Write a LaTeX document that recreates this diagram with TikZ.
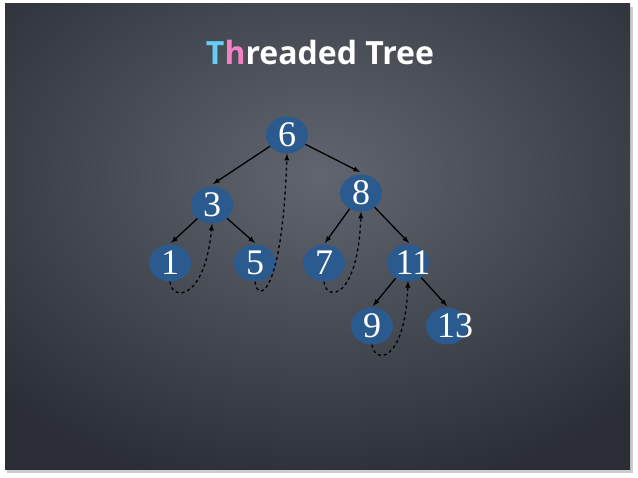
\documentclass[tikz,border=0pt]{standalone}
\usepackage{fontspec}
\setmainfont{Liberation Serif}
\newfontfamily\titlefont{Open Sans}
\usetikzlibrary{shapes.geometric}
\begin{document}
\begin{tikzpicture}[x=1pt,y=-1pt,
  nd/.style={ellipse,fill=nodeblue,minimum width=42pt,minimum height=37pt,inner sep=0pt,text=white,font=\fontsize{36}{36}\selectfont},
  tr/.style={-latex,line width=1.3pt,black},
  th/.style={-latex,line width=1.3pt,dashed,black}]
\definecolor{nodeblue}{HTML}{2B5A8F}
\definecolor{bgin}{HTML}{60656F}
\definecolor{bgout}{HTML}{2A2D35}
\useasboundingbox (0,0) rectangle (638,478);
\fill[white] (0,0) rectangle (638,478);
\fill[gray!40] (7,7) rectangle (633,473);
\begin{scope}
\clip (5,4) rectangle (630,470);
\shade[inner color=bgin,outer color=bgout] (-130,-150) rectangle (770,500);
\end{scope}
\node[text=white,font=\titlefont\bfseries\fontsize{32}{32}\selectfont] (title) at (320,53) {{\color{cyan!60}T}{\color{magenta!50}h}readed Tree};
\node[nd] (n6) at (287,135) {6};
\node[nd] (n3) at (212,205) {3};
\node[nd] (n8) at (361,193) {8};
\node[nd] (n1) at (170,263) {1};
\node[nd] (n5) at (255,263) {5};
\node[nd] (n7) at (324,263) {7};
\node[nd] (n11) at (408,263) {\makebox[0pt]{\hspace*{10pt}11}};
\node[nd] (n9) at (372,326) {9};
\node[nd] (n13) at (447,326) {\makebox[0pt]{\hspace*{16pt}13}};
\draw[tr] (n6) -- (213,184);
\draw[tr] (n6) -- (360,172);
\draw[tr] (n3) -- (171,243);
\draw[tr] (n3) -- (255,243);
\draw[tr] (n8) -- (325,243);
\draw[tr] (n8) -- (409,243);
\draw[tr] (n11) -- (373,306);
\draw[tr] (n11) -- (447,306);
\draw[th] (n1.south) .. controls (172,302) and (205,300) .. (n3.south);
\draw[th] (n5.south) .. controls (257,302) and (282,300) .. (n6.south);
\draw[th] (n7.south) .. controls (326,302) and (358,300) .. (n8.south);
\draw[th] (n9.south) .. controls (374,364) and (405,364) .. (408,281);
\end{tikzpicture}
\end{document}
